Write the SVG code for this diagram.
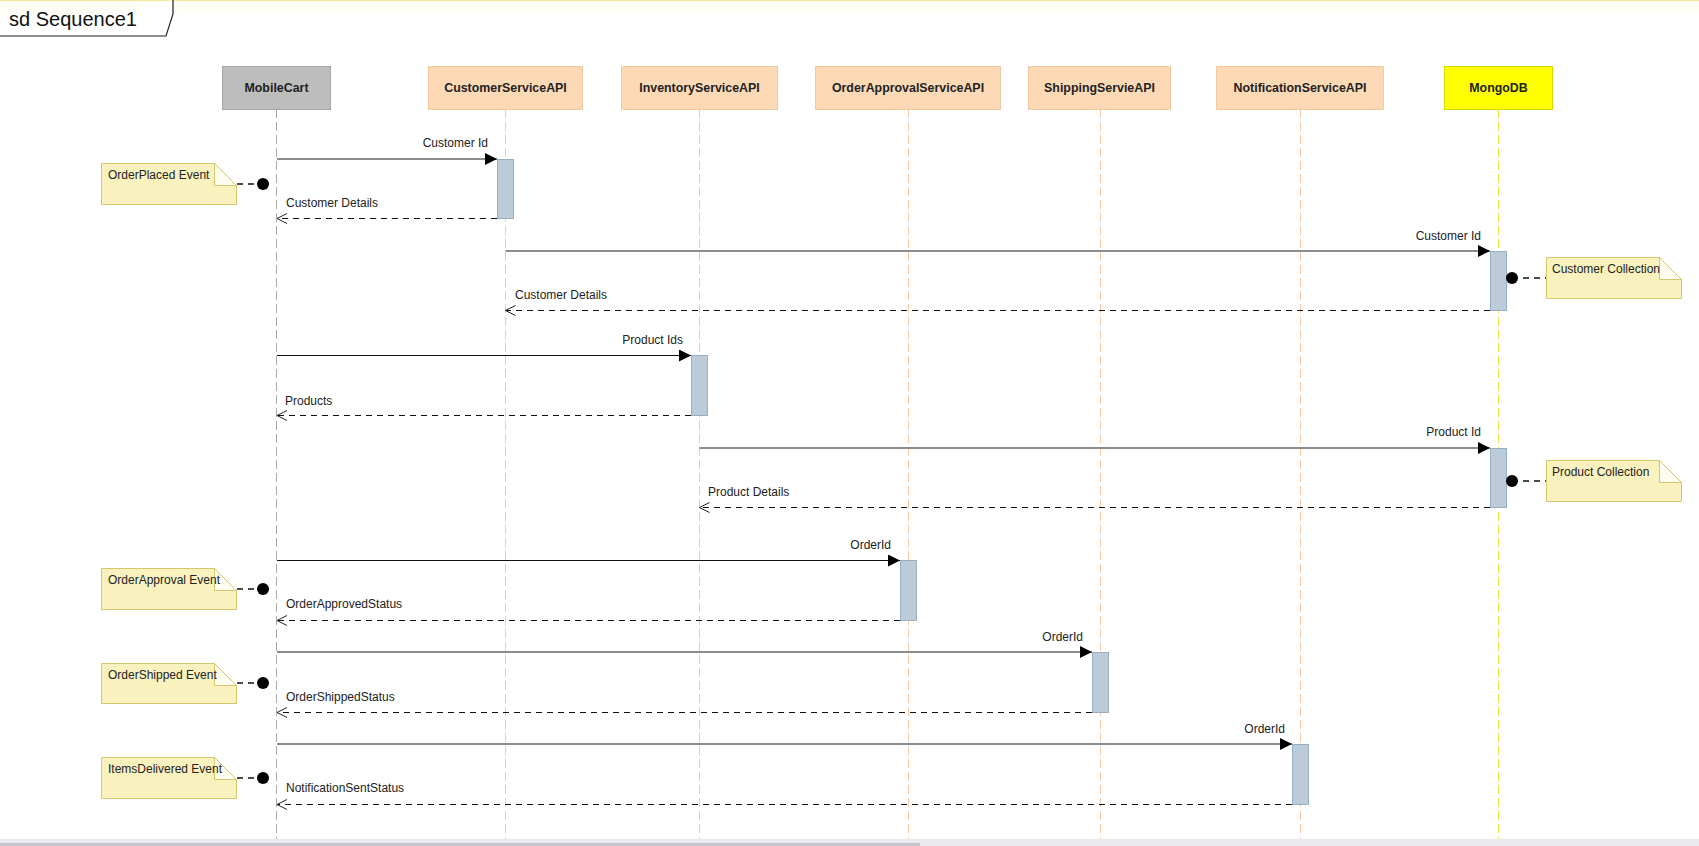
<svg xmlns="http://www.w3.org/2000/svg" width="1699" height="846" viewBox="0 0 1699 846">
<style>
text{font-family:"Liberation Sans",Arial,sans-serif;font-size:12px;fill:#222}
.pl{font-weight:bold;text-anchor:middle;font-size:12.4px}
.box{stroke-width:1}
.svc{fill:#fdd9b6;stroke:#f3c9a2}
.ll{stroke-width:1;stroke-dasharray:9,4;fill:none}
.act{fill:#bccbd8;stroke:#98aec2;stroke-width:1}
.msg{stroke:#666;stroke-width:1.6;fill:none;marker-end:url(#solid)}
.msgk{stroke:#111;stroke-width:1.2;fill:none;marker-end:url(#solid)}
.ret{stroke:#111;stroke-width:1;stroke-dasharray:6,5;fill:none;marker-end:url(#open)}
.note{fill:#f9f2be;stroke:#d6c66e;stroke-width:1}
.fold{fill:#fffdf0;stroke:#d6c66e;stroke-width:1}
.nl{stroke:#111;stroke-width:1.3;stroke-dasharray:6,5;fill:none}
.end{text-anchor:end}
</style>
<defs>
<marker id="solid" viewBox="0 0 12 12" refX="12" refY="6" markerWidth="12" markerHeight="12" markerUnits="userSpaceOnUse" orient="auto">
<path d="M0,0 L12,6 L0,12 z" fill="#000"/>
</marker>
<marker id="open" viewBox="0 0 12 12" refX="11" refY="6" markerWidth="12" markerHeight="12" markerUnits="userSpaceOnUse" orient="auto">
<path d="M1,1 L11,6 L1,11" fill="none" stroke="#222" stroke-width="1"/>
</marker>
</defs>
<rect x="0" y="0" width="1699" height="846" fill="#fff"/>
<rect x="0" y="0" width="1699" height="14" fill="#fffef6"/>
<line x1="0" y1="0.5" x2="1699" y2="0.5" stroke="#f1e9a6" stroke-width="1.5"/>
<g id="frame">
<path d="M0,36 L166,36 L173,14 L173,0" fill="#fff" stroke="#222" stroke-width="1.2"/>
<text x="9" y="26" style="font-size:20px;fill:#111">sd Sequence1</text>
</g>
<g id="lifelines">
<line class="ll" x1="276.5" y1="109" x2="276.5" y2="839" stroke="#a9a9a9"/>
<line class="ll" x1="505.5" y1="109" x2="505.5" y2="839" stroke="#f7c7a6"/>
<line class="ll" x1="699.5" y1="109" x2="699.5" y2="839" stroke="#f7c7a6"/>
<line class="ll" x1="908.5" y1="109" x2="908.5" y2="839" stroke="#f7c7a6"/>
<line class="ll" x1="1100.5" y1="109" x2="1100.5" y2="839" stroke="#f7c7a6"/>
<line class="ll" x1="1300.5" y1="109" x2="1300.5" y2="839" stroke="#f7c7a6"/>
<line class="ll" x1="1498.5" y1="109" x2="1498.5" y2="839" stroke="#e6e43c"/>
</g>
<g id="MobileCart">
<rect class="box" x="222.5" y="66.5" width="108" height="43" fill="#bdbdbd" stroke="#a6a6a6"/>
<text class="pl" x="276.5" y="92">MobileCart</text>
</g>
<g id="CustomerServiceAPI">
<rect class="box svc" x="428.5" y="66.5" width="154" height="43"/>
<text class="pl" x="505.5" y="92">CustomerServiceAPI</text>
<rect class="act" x="497.5" y="159.5" width="16" height="59"/>
</g>
<g id="InventoryServiceAPI">
<rect class="box svc" x="621.5" y="66.5" width="156" height="43"/>
<text class="pl" x="699.5" y="92">InventoryServiceAPI</text>
<rect class="act" x="691.5" y="355.5" width="16" height="60"/>
</g>
<g id="OrderApprovalServiceAPI">
<rect class="box svc" x="815.5" y="66.5" width="185" height="43"/>
<text class="pl" x="908" y="92">OrderApprovalServiceAPI</text>
<rect class="act" x="900.5" y="560.5" width="16" height="60"/>
</g>
<g id="ShippingServieAPI">
<rect class="box svc" x="1028.5" y="66.5" width="142" height="43"/>
<text class="pl" x="1099.5" y="92">ShippingServieAPI</text>
<rect class="act" x="1092.5" y="652.5" width="16" height="60"/>
</g>
<g id="NotificationServiceAPI">
<rect class="box svc" x="1216.5" y="66.5" width="167" height="43"/>
<text class="pl" x="1300" y="92">NotificationServiceAPI</text>
<rect class="act" x="1292.5" y="744.5" width="16" height="60"/>
</g>
<g id="MongoDB">
<rect class="box" x="1444.5" y="66.5" width="108" height="43" fill="#ffff00" stroke="#d9d900"/>
<text class="pl" x="1498.5" y="92">MongoDB</text>
<rect class="act" x="1490.5" y="251.5" width="16" height="59"/>
<rect class="act" x="1490.5" y="448.5" width="16" height="59"/>
</g>
<g id="note-orderplaced">
<path class="note" d="M101.5,163.5 L214.5,163.5 L236.5,185.5 L236.5,204.5 L101.5,204.5 z"/>
<path class="fold" d="M214.5,163.5 L214.5,185.5 L236.5,185.5 z"/>
<text x="108" y="179">OrderPlaced Event</text>
</g>
<g id="note-orderapproval">
<path class="note" d="M101.5,568.5 L214.5,568.5 L236.5,590.5 L236.5,609.5 L101.5,609.5 z"/>
<path class="fold" d="M214.5,568.5 L214.5,590.5 L236.5,590.5 z"/>
<text x="108" y="584">OrderApproval Event</text>
</g>
<g id="note-ordershipped">
<path class="note" d="M101.5,663.5 L214.5,663.5 L236.5,685.5 L236.5,703.5 L101.5,703.5 z"/>
<path class="fold" d="M214.5,663.5 L214.5,685.5 L236.5,685.5 z"/>
<text x="108" y="679">OrderShipped Event</text>
</g>
<g id="note-itemsdelivered">
<path class="note" d="M101.5,757.5 L214.5,757.5 L236.5,779.5 L236.5,798.5 L101.5,798.5 z"/>
<path class="fold" d="M214.5,757.5 L214.5,779.5 L236.5,779.5 z"/>
<text x="108" y="773">ItemsDelivered Event</text>
</g>
<g id="note-customercollection">
<path class="note" d="M1546.5,257.5 L1659.5,257.5 L1681.5,279.5 L1681.5,298.5 L1546.5,298.5 z"/>
<path class="fold" d="M1659.5,257.5 L1659.5,279.5 L1681.5,279.5 z"/>
<text x="1552" y="273">Customer Collection</text>
</g>
<g id="note-productcollection">
<path class="note" d="M1546.5,460.5 L1659.5,460.5 L1681.5,482.5 L1681.5,501.5 L1546.5,501.5 z"/>
<path class="fold" d="M1659.5,460.5 L1659.5,482.5 L1681.5,482.5 z"/>
<text x="1552" y="476">Product Collection</text>
</g>
<g id="connectors">
<line class="nl" x1="237" y1="184" x2="263" y2="184"/>
<circle cx="263" cy="184" r="6" fill="#000"/>
<line class="nl" x1="237" y1="589" x2="263" y2="589"/>
<circle cx="263" cy="589" r="6" fill="#000"/>
<line class="nl" x1="237" y1="683" x2="263" y2="683"/>
<circle cx="263" cy="683" r="6" fill="#000"/>
<line class="nl" x1="237" y1="778" x2="263" y2="778"/>
<circle cx="263" cy="778" r="6" fill="#000"/>
<line class="nl" x1="1512" y1="278" x2="1546" y2="278"/>
<circle cx="1512" cy="278" r="6" fill="#000"/>
<line class="nl" x1="1512" y1="481" x2="1546" y2="481"/>
<circle cx="1512" cy="481" r="6" fill="#000"/>

<line class="msg" x1="277" y1="159" x2="497" y2="159"/>
<text class="end" x="488" y="147">Customer Id</text>
<line class="ret" x1="497" y1="218.5" x2="277" y2="218.5"/>
<text x="286" y="207">Customer Details</text>

<line class="msg" x1="505.5" y1="251" x2="1490" y2="251"/>
<text class="end" x="1481" y="240">Customer Id</text>
<line class="ret" x1="1490" y1="310.5" x2="505.5" y2="310.5"/>
<text x="515" y="299">Customer Details</text>

<line class="msgk" x1="277" y1="355.5" x2="691" y2="355.5"/>
<text class="end" x="683" y="344">Product Ids</text>
<line class="ret" x1="691" y1="415.5" x2="277" y2="415.5"/>
<text x="285" y="405">Products</text>

<line class="msg" x1="699.5" y1="448" x2="1490" y2="448"/>
<text class="end" x="1481" y="436">Product Id</text>
<line class="ret" x1="1490" y1="507.5" x2="699.5" y2="507.5"/>
<text x="708" y="496">Product Details</text>

<line class="msgk" x1="277" y1="560.5" x2="900" y2="560.5"/>
<text class="end" x="891" y="549">OrderId</text>
<line class="ret" x1="900" y1="620.5" x2="277" y2="620.5"/>
<text x="286" y="608">OrderApprovedStatus</text>

<line class="msg" x1="277" y1="652" x2="1092" y2="652"/>
<text class="end" x="1083" y="641">OrderId</text>
<line class="ret" x1="1092" y1="712.5" x2="277" y2="712.5"/>
<text x="286" y="701">OrderShippedStatus</text>

<line class="msg" x1="277" y1="744" x2="1292" y2="744"/>
<text class="end" x="1285" y="733">OrderId</text>
<line class="ret" x1="1292" y1="804.5" x2="277" y2="804.5"/>
<text x="286" y="792">NotificationSentStatus</text>
</g>
<rect x="0" y="839" width="1699" height="7" fill="#e9e9ee"/>
<rect x="0" y="843" width="920" height="3" fill="#c6c6ce"/>
</svg>
